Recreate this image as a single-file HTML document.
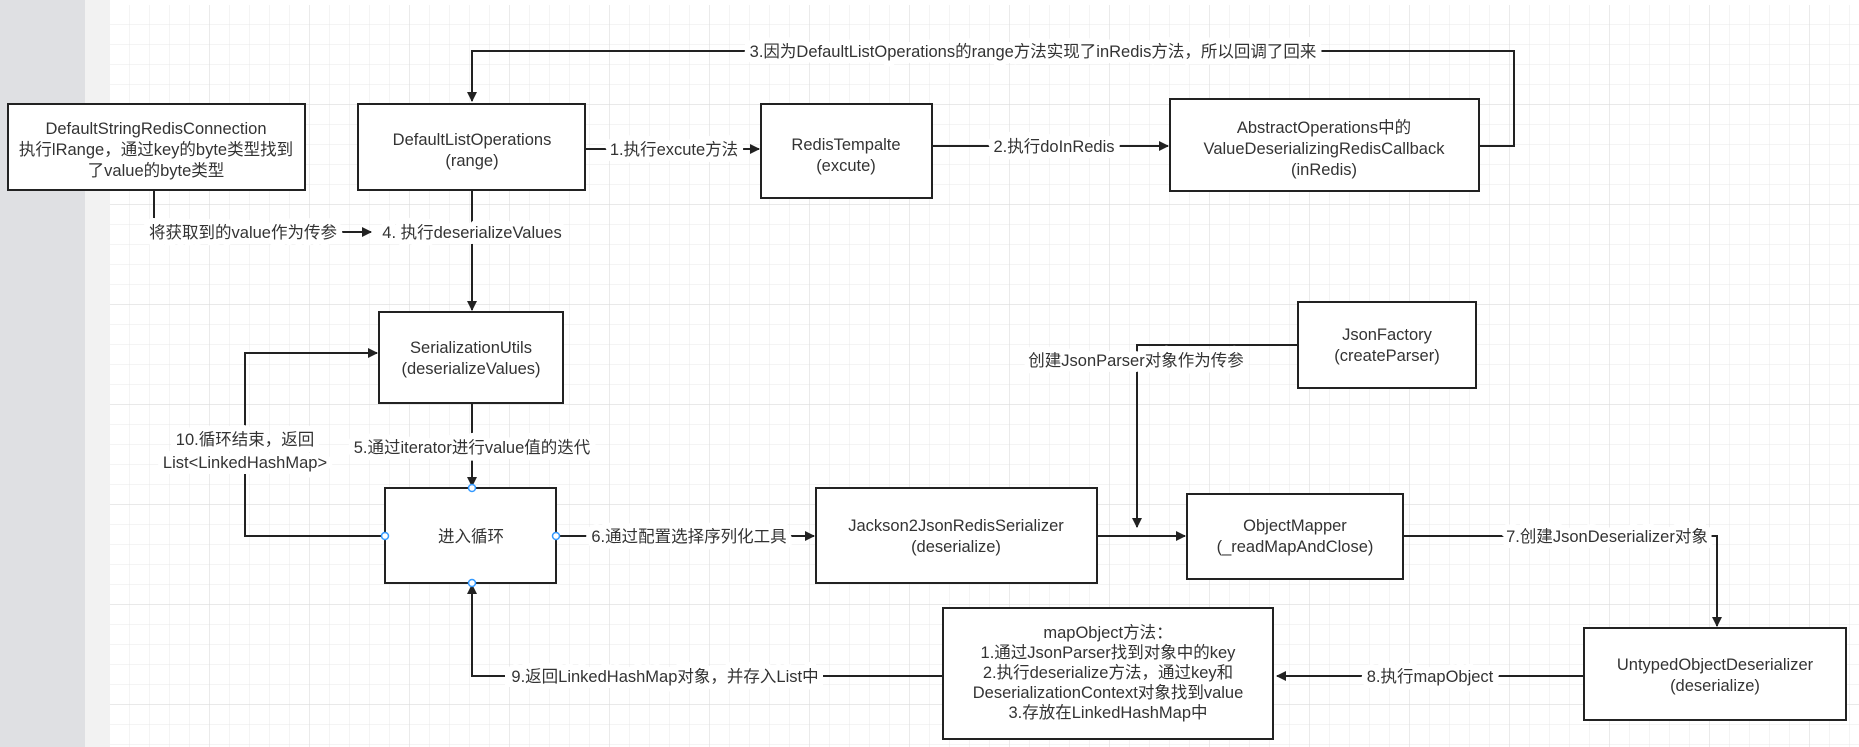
<!DOCTYPE html>
<html><head><meta charset="utf-8"><style>
html,body{margin:0;padding:0;background:#fff;}
svg{display:block;}
text{font-family:"Liberation Sans","Noto Sans CJK SC",sans-serif;font-size:16.5px;fill:#333;}
.l{paint-order:stroke;stroke:#fff;stroke-width:12px;stroke-linejoin:round;}
</style></head><body>
<svg width="1859" height="747" viewBox="0 0 1859 747" xmlns="http://www.w3.org/2000/svg">
<defs>
<pattern id="g" width="20" height="20" patternUnits="userSpaceOnUse" x="110" y="5">
<path d="M20 0V20M0 20H20" fill="none" stroke="#e8e8e8" stroke-width="1"/></pattern>
<pattern id="G" width="100" height="100" patternUnits="userSpaceOnUse" x="110" y="5">
<path d="M100 0V100M0 100H100" fill="none" stroke="#dcdcdc" stroke-width="1.2"/></pattern>
<marker id="a" markerWidth="10" markerHeight="10" refX="9" refY="5" orient="auto" markerUnits="userSpaceOnUse"><path d="M0 0L10 5L0 10Z" fill="#222"/></marker>
</defs>
<rect width="1859" height="747" fill="#fff"/>
<rect x="110" y="5" width="1749" height="742" fill="url(#g)"/>
<rect x="110" y="5" width="1749" height="742" fill="url(#G)"/>
<rect x="0" y="0" width="85" height="747" fill="#dfe0e3"/>
<rect x="85" y="0" width="25" height="747" fill="#f2f2f2"/>

<g fill="none" stroke="#222" stroke-width="2">
<path d="M1479 146H1514V51H472V101" marker-end="url(#a)"/>
<path d="M585 149H759" marker-end="url(#a)"/>
<path d="M932 146H1168" marker-end="url(#a)"/>
<path d="M154 190V232H371" marker-end="url(#a)"/>
<path d="M472 190V310" marker-end="url(#a)"/>
<path d="M472 403V486" marker-end="url(#a)"/>
<path d="M385 536H245V353H377" marker-end="url(#a)"/>
<path d="M556 536H814" marker-end="url(#a)"/>
<path d="M1097 536H1185" marker-end="url(#a)"/>
<path d="M1298 345H1137V527" marker-end="url(#a)"/>
<path d="M1403 536H1717V626" marker-end="url(#a)"/>
<path d="M1584 676H1277" marker-end="url(#a)"/>
<path d="M943 676H472V585" marker-end="url(#a)"/>
</g>
<g fill="#fff">
<rect x="745" y="42" width="576" height="20"/>
<rect x="505" y="667" width="318" height="20"/>
</g>

<g fill="#fff" stroke="#222" stroke-width="2">
<rect x="8" y="104" width="297" height="86"/>
<rect x="358" y="104" width="227" height="86"/>
<rect x="761" y="104" width="171" height="94"/>
<rect x="1170" y="99" width="309" height="92"/>
<rect x="379" y="312" width="184" height="91"/>
<rect x="385" y="488" width="171" height="95"/>
<rect x="816" y="488" width="281" height="95"/>
<rect x="1298" y="302" width="178" height="86"/>
<rect x="1187" y="494" width="216" height="85"/>
<rect x="1584" y="628" width="262" height="92"/>
<rect x="943" y="608" width="330" height="131"/>
</g>
<g fill="#fff" stroke="#3399ff" stroke-width="1.5">
<circle cx="472" cy="488" r="3.5"/><circle cx="472" cy="583" r="3.5"/>
<circle cx="385" cy="536" r="3.5"/><circle cx="556" cy="536" r="3.5"/>
</g>

<g text-anchor="middle" class="l">
<text x="1033" y="57">3.因为DefaultListOperations的range方法实现了inRedis方法，所以回调了回来</text>
<text x="674" y="155">1.执行excute方法</text>
<text x="1054" y="152">2.执行doInRedis</text>
<text x="243" y="238">将获取到的value作为传参</text>
<text x="472" y="238">4. 执行deserializeValues</text>
<text x="472" y="453">5.通过iterator进行value值的迭代</text>
<text x="245" y="445">10.循环结束，返回</text>
<text x="245" y="468">List&lt;LinkedHashMap&gt;</text>
<text x="689" y="542">6.通过配置选择序列化工具</text>
<text x="1136" y="366">创建JsonParser对象作为传参</text>
<text x="1607" y="542">7.创建JsonDeserializer对象</text>
<text x="1430" y="682">8.执行mapObject</text>
<text x="665" y="682">9.返回LinkedHashMap对象，并存入List中</text>
</g>
<g text-anchor="middle">
<text x="156" y="134">DefaultStringRedisConnection</text>
<text x="156" y="155">执行lRange，通过key的byte类型找到</text>
<text x="156" y="176">了value的byte类型</text>
<text x="472" y="145">DefaultListOperations</text>
<text x="472" y="166">(range)</text>
<text x="846" y="150">RedisTempalte</text>
<text x="846" y="171">(excute)</text>
<text x="1324" y="133">AbstractOperations中的</text>
<text x="1324" y="154">ValueDeserializingRedisCallback</text>
<text x="1324" y="175">(inRedis)</text>
<text x="471" y="353">SerializationUtils</text>
<text x="471" y="374">(deserializeValues)</text>
<text x="471" y="542">进入循环</text>
<text x="956" y="531">Jackson2JsonRedisSerializer</text>
<text x="956" y="552">(deserialize)</text>
<text x="1387" y="340">JsonFactory</text>
<text x="1387" y="361">(createParser)</text>
<text x="1295" y="531">ObjectMapper</text>
<text x="1295" y="552">(_readMapAndClose)</text>
<text x="1715" y="670">UntypedObjectDeserializer</text>
<text x="1715" y="691">(deserialize)</text>
<text x="1108" y="638">mapObject方法：</text>
<text x="1108" y="658">1.通过JsonParser找到对象中的key</text>
<text x="1108" y="678">2.执行deserialize方法，通过key和</text>
<text x="1108" y="698">DeserializationContext对象找到value</text>
<text x="1108" y="718">3.存放在LinkedHashMap中</text>
</g>
</svg>
</body></html>
